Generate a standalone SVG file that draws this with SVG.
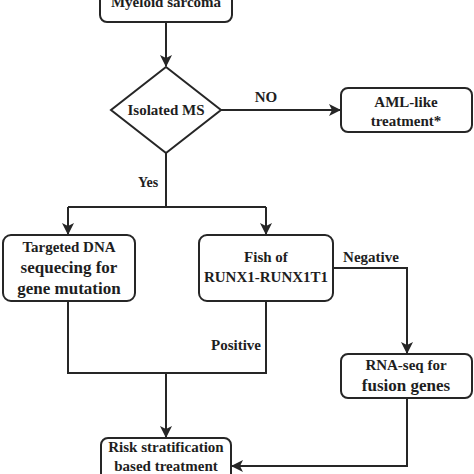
<svg xmlns="http://www.w3.org/2000/svg" width="474" height="474" viewBox="0 0 474 474">
<style>
.b{fill:#fff;stroke:#262626;stroke-width:2}
.t{font-family:'Liberation Serif','Times New Roman',Times,serif;font-weight:700;font-size:15px;fill:#1e1e1e;text-anchor:middle}
.l{fill:none;stroke:#262626;stroke-width:2}
</style>
<defs>
<marker id="a" viewBox="0 0 12 12" refX="11" refY="6" markerWidth="12" markerHeight="12" markerUnits="userSpaceOnUse" orient="auto">
<path d="M0,0 L12,6 L0,12 L3,6 Z" fill="#262626"/>
</marker>
</defs>
<rect width="474" height="474" fill="#fff"/>
<g id="connectors">
<path class="l" d="M166,22 V66" marker-end="url(#a)"/>
<path class="l" d="M220,110 H340" marker-end="url(#a)"/>
<path class="l" d="M166,153 V207"/>
<path class="l" d="M68,207 H266"/>
<path class="l" d="M68,207 V234" marker-end="url(#a)"/>
<path class="l" d="M266,207 V234" marker-end="url(#a)"/>
<path class="l" d="M333,268 H407 V353" marker-end="url(#a)"/>
<path class="l" d="M68,301 V373 H266 V301"/>
<path class="l" d="M166,373 V437" marker-end="url(#a)"/>
<path class="l" d="M407,398 V466 H232" marker-end="url(#a)"/>
<text class="t" x="266" y="102" font-family="Liberation Serif">NO</text>
<text class="t" x="148" y="187" style="font-size:14px">Yes</text>
<text class="t" x="371" y="262">Negative</text>
<text class="t" x="236" y="350">Positive</text>
</g>
<g id="n1">
<rect class="b" x="100" y="-20" width="132" height="42" rx="7"/>
<text class="t" x="166" y="7">Myeloid sarcoma</text>
</g>
<g id="n2">
<path class="b" d="M166,67 L221,110 L166,153 L111,110 Z"/>
<text class="t" x="166" y="115">Isolated MS</text>
</g>
<g id="n3">
<rect class="b" x="341" y="88" width="131" height="44" rx="7"/>
<text class="t" x="406" y="107">AML-like</text>
<text class="t" x="406" y="126">treatment*</text>
</g>
<g id="n4">
<rect class="b" x="3" y="235" width="132" height="66" rx="8"/>
<text class="t" x="69" y="252">Targeted DNA</text>
<text class="t" x="69" y="273" style="font-size:17px">sequecing for</text>
<text class="t" x="69" y="294" style="font-size:17px">gene mutation</text>
</g>
<g id="n5">
<rect class="b" x="199" y="235" width="134" height="66" rx="8"/>
<text class="t" x="266" y="262">Fish of</text>
<text class="t" x="266" y="282">RUNX1-RUNX1T1</text>
</g>
<g id="n6">
<rect class="b" x="341" y="354" width="131" height="44" rx="7"/>
<text class="t" x="406" y="370">RNA-seq for</text>
<text class="t" x="406" y="391" style="font-size:17px">fusion genes</text>
</g>
<g id="n7">
<rect class="b" x="101" y="438" width="130" height="50" rx="7"/>
<text class="t" x="166" y="452">Risk stratification</text>
<text class="t" x="166" y="471">based treatment</text>
</g>
</svg>
